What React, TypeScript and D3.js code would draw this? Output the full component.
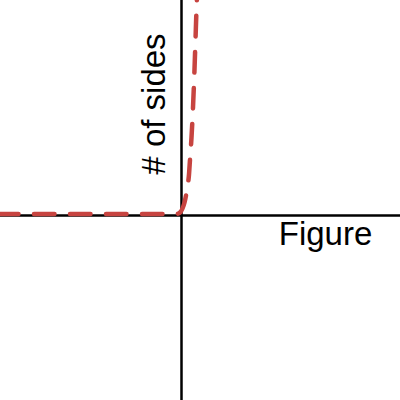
import React from 'react';
import * as d3 from 'd3';

// values (one grid unit = 20px)
const curveX = [-9.15, -0.25, -0.125, -0.025, 0.075, 0.175, 0.25, 0.325, 0.4, 0.45, 0.525, 0.6, 0.675, 0.725, 0.775, 0.8];
const curveY = [0.025, 0.025, 0.05, 0.125, 0.3, 0.6, 0.95, 1.4, 2.0, 2.75, 3.85, 5.35, 7.25, 8.75, 10.25, 10.85];

const xLabel = 'Figure';
const yLabel = '# of sides';

const width = 400;
const height = 400;
const font = 'Arial, "Liberation Sans", Helvetica, sans-serif';

export default function App() {
  const x = d3.scaleLinear().domain([-9.05, 10.95]).range([0, width]);
  const y = d3.scaleLinear().domain([-9.25, 10.75]).range([height, 0]);

  const points: [number, number][] = curveX.map((v, i) => [v, curveY[i]]);
  const line = d3
    .line<[number, number]>()
    .x((d) => x(d[0]))
    .y((d) => y(d[1]) - 0.5)
    .curve(d3.curveMonotoneX);

  const x0 = x(0) + 0.5;
  const y0 = y(0) + 0.5;

  return (
    <svg
      width={width}
      height={height}
      style={{ position: 'absolute', left: 0, top: 0, display: 'block', background: '#fff' }}
    >
      {/* axes */}
      <line x1={0} x2={width} y1={y0} y2={y0} stroke="#000" strokeWidth={2.5} />
      <line x1={x0} x2={x0} y1={0} y2={height} stroke="#000" strokeWidth={2.5} />

      {/* labels */}
      <text x={325.5} y={244.5} textAnchor="middle" fontFamily={font} fontSize={33} fill="#000">
        {xLabel}
      </text>
      <text
        transform={`translate(164.5,104) rotate(-90)`}
        textAnchor="middle"
        fontFamily={font}
        fontSize={33}
        fill="#000"
      >
        {yLabel}
      </text>

      {/* dashed curve */}
      <path
        d={line(points) || ''}
        fill="none"
        stroke="#c74440"
        strokeWidth={4.5}
        strokeDasharray="20.5 15.5"
        strokeLinecap="round"
        strokeLinejoin="round"
      />
    </svg>
  );
}
